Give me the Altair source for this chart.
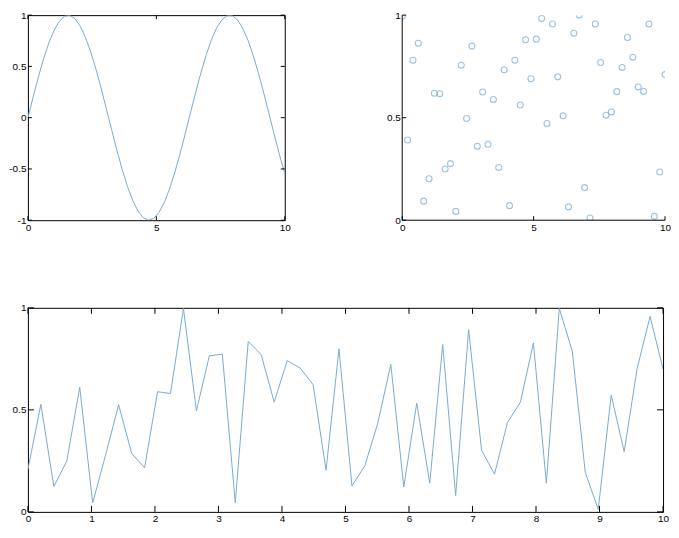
import altair as alt
import pandas as pd

# ---- data ----
x_grid = [0.000, 0.204, 0.408, 0.612, 0.816, 1.020, 1.224, 1.429, 1.633, 1.837,
          2.041, 2.245, 2.449, 2.653, 2.857, 3.061, 3.265, 3.469, 3.673, 3.878,
          4.082, 4.286, 4.490, 4.694, 4.898, 5.102, 5.306, 5.510, 5.714, 5.918,
          6.122, 6.327, 6.531, 6.735, 6.939, 7.143, 7.347, 7.551, 7.755, 7.959,
          8.163, 8.367, 8.571, 8.776, 8.980, 9.184, 9.388, 9.592, 9.796, 10.000]

sine_y = [0.000, 0.203, 0.397, 0.575, 0.729, 0.852, 0.940, 0.990, 0.998, 0.965,
          0.891, 0.781, 0.638, 0.470, 0.281, 0.080, -0.123, -0.322, -0.506, -0.672,
          -0.808, -0.911, -0.975, -1.000, -0.983, -0.925, -0.829, -0.698, -0.539, -0.357,
          -0.160, 0.044, 0.245, 0.437, 0.610, 0.758, 0.874, 0.954, 0.995, 0.994,
          0.953, 0.871, 0.754, 0.604, 0.430, 0.238, 0.037, -0.166, -0.363, -0.544]

scatter_y = [0.995, 0.391, 0.780, 0.863, 0.093, 0.202, 0.619, 0.617, 0.250, 0.276,
             0.043, 0.756, 0.496, 0.849, 0.361, 0.625, 0.370, 0.589, 0.257, 0.734,
             0.071, 0.780, 0.562, 0.880, 0.690, 0.883, 0.984, 0.472, 0.957, 0.699,
             0.509, 0.065, 0.912, 1.000, 0.159, 0.011, 0.957, 0.769, 0.512, 0.528,
             0.627, 0.745, 0.891, 0.795, 0.650, 0.628, 0.957, 0.019, 0.235, 0.710]

noise_y = [0.208, 0.527, 0.125, 0.248, 0.611, 0.044, 0.280, 0.525, 0.287, 0.216,
           0.589, 0.580, 0.997, 0.495, 0.765, 0.773, 0.044, 0.835, 0.770, 0.538,
           0.741, 0.705, 0.624, 0.204, 0.799, 0.127, 0.227, 0.436, 0.723, 0.122,
           0.533, 0.141, 0.820, 0.080, 0.893, 0.302, 0.185, 0.439, 0.538, 0.828,
           0.141, 0.997, 0.788, 0.193, 0.013, 0.572, 0.295, 0.702, 0.958, 0.699]

sine_xticks = [0, 5, 10]
sine_yticks = [-1, -0.5, 0, 0.5, 1]
scat_xticks = [0, 5, 10]
scat_yticks = [0, 0.5, 1]
noise_xticks = [0, 1, 2, 3, 4, 5, 6, 7, 8, 9, 10]
noise_yticks = [0, 0.5, 1]

BLUE = "#78aad2"
LABEL_EXPR = "datum.value < 0 ? '-' + format(-datum.value, '~g') : format(datum.value, '~g')"


def xaxis(vals):
    return alt.Axis(values=vals, labelExpr=LABEL_EXPR, ticks=False, domain=False,
                    grid=False, title=None, labelFlush=False)


def yaxis(vals):
    return alt.Axis(values=vals, labelExpr=LABEL_EXPR, ticks=False, domain=False,
                    grid=False, title=None, labelFlush=False,
                    minExtent=18, maxExtent=18)


def tick_layers(xs, ys, xsc, ysc, xax, yax, W, H, L, box):
    out = []
    xt = pd.DataFrame({"x": xs})
    yt = pd.DataFrame({"y": ys})
    out.append(alt.Chart(xt).mark_rule(color="black", strokeWidth=1).encode(
        x=alt.X("x:Q", scale=xsc, axis=xax), y=alt.value(H), y2=alt.value(H - L)))
    out.append(alt.Chart(yt).mark_rule(color="black", strokeWidth=1).encode(
        y=alt.Y("y:Q", scale=ysc, axis=yax), x=alt.value(0), x2=alt.value(L)))
    if box:
        out.append(alt.Chart(xt).mark_rule(color="black", strokeWidth=1).encode(
            x=alt.X("x:Q", scale=xsc, axis=xax), y=alt.value(0), y2=alt.value(L)))
        out.append(alt.Chart(yt).mark_rule(color="black", strokeWidth=1).encode(
            y=alt.Y("y:Q", scale=ysc, axis=yax), x=alt.value(W), x2=alt.value(W - L)))
    return out


LW, RW, TH = 258, 264, 206
BW, BH = 638, 205

# ---- top-left: sine ----
sx = alt.Scale(domain=[0, 10], nice=False, zero=False)
sy = alt.Scale(domain=[-1, 1], nice=False, zero=False)
sxa, sya = xaxis(sine_xticks), yaxis(sine_yticks)
sine_df = pd.DataFrame({"x": x_grid, "y": sine_y})
sine_line = alt.Chart(sine_df).mark_line(color=BLUE, strokeWidth=1, clip=True).encode(
    x=alt.X("x:Q", scale=sx, axis=sxa),
    y=alt.Y("y:Q", scale=sy, axis=sya))
sine = alt.layer(sine_line, *tick_layers(sine_xticks, sine_yticks, sx, sy, sxa, sya, LW, TH, 4, True)).properties(
    width=LW, height=TH, view=alt.ViewBackground(stroke="black", strokeWidth=1))

# ---- top-right: scatter ----
cx = alt.Scale(domain=[0, 10], nice=False, zero=False)
cy = alt.Scale(domain=[0, 1], nice=False, zero=False)
cxa, cya = xaxis(scat_xticks), yaxis(scat_yticks)
scat_df = pd.DataFrame({"x": x_grid, "y": scatter_y})
scat_pts = alt.Chart(scat_df).mark_point(shape="circle", filled=False, color=BLUE, size=36,
                                          strokeWidth=1.1, clip=True).encode(
    x=alt.X("x:Q", scale=cx, axis=cxa),
    y=alt.Y("y:Q", scale=cy, axis=cya))
scat_frame = alt.Chart(pd.DataFrame({"x": [0]})).mark_rule(color="black", strokeWidth=1).encode(
    x=alt.value(0), x2=alt.value(RW), y=alt.value(TH))
scat_frame2 = alt.Chart(pd.DataFrame({"x": [0]})).mark_rule(color="black", strokeWidth=1).encode(
    x=alt.value(0), y=alt.value(0), y2=alt.value(TH))
scatter = alt.layer(scat_pts, scat_frame, scat_frame2,
                    *tick_layers(scat_xticks, scat_yticks, cx, cy, cxa, cya, RW, TH, 4, False)).properties(
    width=RW, height=TH, view=alt.ViewBackground(stroke="transparent", strokeWidth=0))

# ---- bottom: noise line ----
nx = alt.Scale(domain=[0, 10], nice=False, zero=False)
ny = alt.Scale(domain=[0, 1], nice=False, zero=False)
nxa, nya = xaxis(noise_xticks), yaxis(noise_yticks)
noise_df = pd.DataFrame({"x": x_grid, "y": noise_y})
noise_line = alt.Chart(noise_df).mark_line(color=BLUE, strokeWidth=1, clip=True).encode(
    x=alt.X("x:Q", scale=nx, axis=nxa),
    y=alt.Y("y:Q", scale=ny, axis=nya))
noise = alt.layer(noise_line, *tick_layers(noise_xticks, noise_yticks, nx, ny, nxa, nya, BW, BH, 6, True)).properties(
    width=BW, height=BH, view=alt.ViewBackground(stroke="black", strokeWidth=1))

top = alt.hconcat(sine, scatter, spacing=93)
chart = alt.vconcat(top, noise, spacing=69).properties(
    padding={"left": 0, "top": 0, "right": 0, "bottom": 0}
).configure_view(stroke="transparent").configure_axis(
    labelFont="Open Sans", labelFontSize=9, labelColor="#444444", labelPadding=2
).configure(background="white")

chart.save("out.html", embed_options={"renderer": "svg", "actions": False})
